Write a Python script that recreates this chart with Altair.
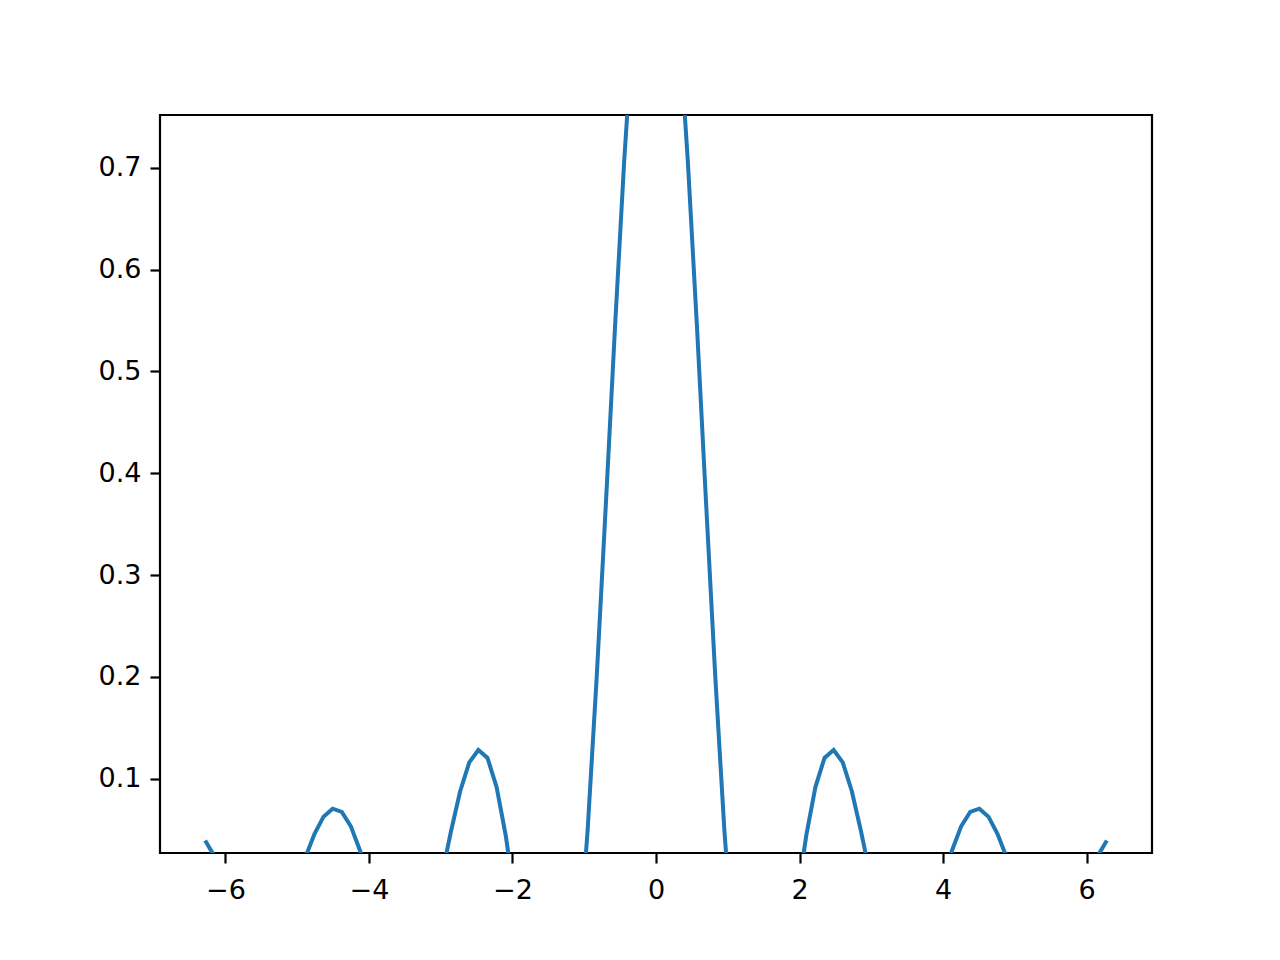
import altair as alt
import pandas as pd

# x samples (100 points evenly across [-2pi, 2pi])
x_vals = [
    -6.2832, -6.1563, -6.0293, -5.9024, -5.7755, -5.6485, -5.5216, -5.3947, -5.2677, -5.1408,
    -5.0139, -4.8869, -4.7600, -4.6331, -4.5061, -4.3792, -4.2523, -4.1253, -3.9984, -3.8715,
    -3.7445, -3.6176, -3.4907, -3.3637, -3.2368, -3.1099, -2.9829, -2.8560, -2.7291, -2.6021,
    -2.4752, -2.3483, -2.2213, -2.0944, -1.9675, -1.8405, -1.7136, -1.5867, -1.4597, -1.3328,
    -1.2059, -1.0789, -0.9520, -0.8251, -0.6981, -0.5712, -0.4443, -0.3173, -0.1904, -0.0635,
    0.0635, 0.1904, 0.3173, 0.4443, 0.5712, 0.6981, 0.8251, 0.9520, 1.0789, 1.2059,
    1.3328, 1.4597, 1.5867, 1.7136, 1.8405, 1.9675, 2.0944, 2.2213, 2.3483, 2.4752,
    2.6021, 2.7291, 2.8560, 2.9829, 3.1099, 3.2368, 3.3637, 3.4907, 3.6176, 3.7445,
    3.8715, 3.9984, 4.1253, 4.2523, 4.3792, 4.5061, 4.6331, 4.7600, 4.8869, 5.0139,
    5.1408, 5.2677, 5.3947, 5.5216, 5.6485, 5.7755, 5.9024, 6.0293, 6.1563, 6.2832,
]

y_vals = [
    0.03936, 0.02437, 0.00486, -0.01628, -0.03573, -0.05033, -0.05752, -0.05580, -0.04504, -0.02650,
    -0.00276, 0.02265, 0.04578, 0.06279, 0.07063, 0.06751, 0.05331, 0.02960, -0.00040, -0.03231,
    -0.06146, -0.08138, -0.09115, -0.08650, -0.06659, -0.03463, 0.00572, 0.04872, 0.08772, 0.11608,
    0.12821, 0.12044, 0.09180, 0.04441, -0.01651, -0.08307, -0.14548, -0.19323, -0.21632, -0.20663,
    -0.15906, -0.07241, 0.05023, 0.20151, 0.37043, 0.54338, 0.70553, 0.84240, 0.94143, 0.99339,
    0.99339, 0.94143, 0.84240, 0.70553, 0.54338, 0.37043, 0.20151, 0.05023, -0.07241, -0.15906,
    -0.20663, -0.21632, -0.19323, -0.14548, -0.08307, -0.01651, 0.04441, 0.09180, 0.12044, 0.12821,
    0.11608, 0.08772, 0.04872, 0.00572, -0.03463, -0.06659, -0.08650, -0.09115, -0.08138, -0.06146,
    -0.03231, -0.00040, 0.02960, 0.05331, 0.06751, 0.07063, 0.06279, 0.04578, 0.02265, -0.00276,
    -0.02650, -0.04504, -0.05580, -0.05752, -0.05033, -0.03573, -0.01628, 0.00486, 0.02437, 0.03936,
]

x_ticks = [-6, -4, -2, 0, 2, 4, 6]
y_ticks = [0.1, 0.2, 0.3, 0.4, 0.5, 0.6, 0.7]

df = pd.DataFrame({"x": x_vals, "y": y_vals, "order": list(range(len(x_vals)))})

axis_common = dict(
    grid=False,
    domain=False,
    tickColor="black",
    tickWidth=2.2,
    tickSize=10,
    labelFont="DejaVu Sans",
    labelFontSize=27,
    labelColor="black",
    title=None,
)

chart = (
    alt.Chart(df)
    .mark_line(color="#1f77b4", strokeWidth=4, clip=True)
    .encode(
        x=alt.X(
            "x:Q",
            scale=alt.Scale(domain=[-6.912, 6.912], nice=False, zero=False),
            axis=alt.Axis(
                values=x_ticks,
                format="d",
                labelExpr="replace(datum.label, '-', '\u2212')",
                labelPadding=14,
                **axis_common,
            ),
        ),
        y=alt.Y(
            "y:Q",
            scale=alt.Scale(domain=[0.0271, 0.7517], nice=False, zero=False),
            axis=alt.Axis(values=y_ticks, format=".1f", labelPadding=9, **axis_common),
        ),
        order="order:Q",
    )
    .properties(
        width=992,
        height=738,
        background="white",
        autosize=alt.AutoSizeParams(type="none"),
        padding={"left": 152, "top": 107, "right": 120, "bottom": 99},
    )
    .configure_view(stroke="black", strokeWidth=2.2, fill="white")
)

chart.save("out.html", embed_options={"renderer": "svg", "actions": False})
